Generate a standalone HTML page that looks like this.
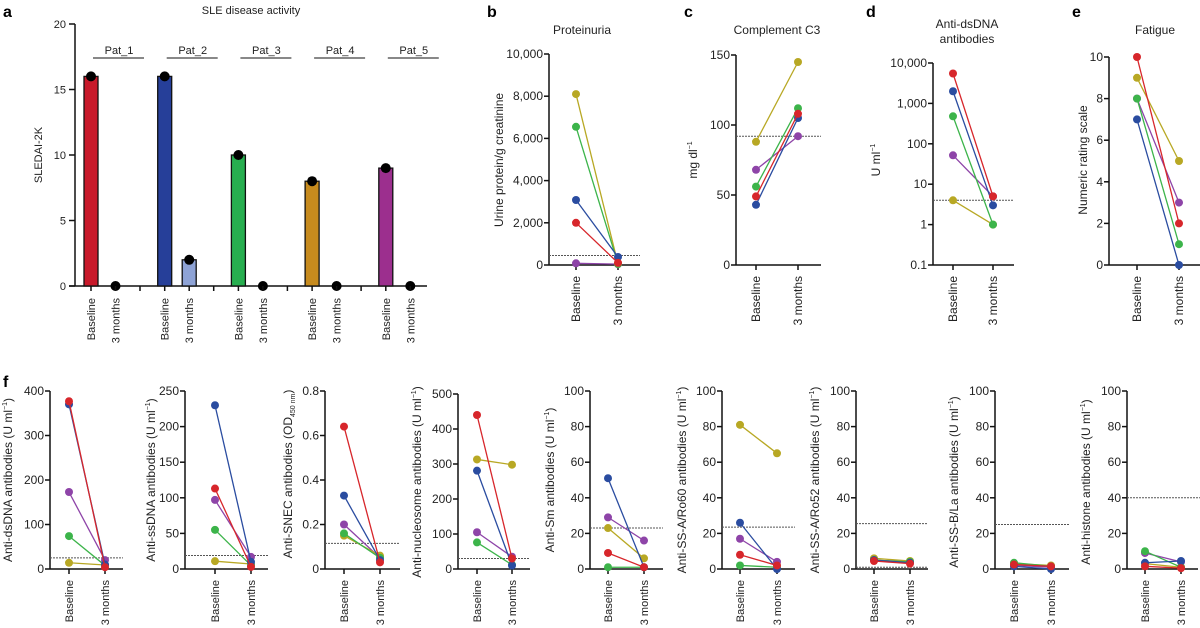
<!DOCTYPE html>
<html><head><meta charset="utf-8"><style>
html,body{margin:0;padding:0;background:#fff}
svg{display:block;font-family:"Liberation Sans",sans-serif}
</style></head><body>
<svg id="fig" width="1200" height="628" viewBox="0 0 1200 628" xmlns="http://www.w3.org/2000/svg"></svg>
<script>
// ---------- data ----------
const patients = ["Pat_1","Pat_2","Pat_3","Pat_4","Pat_5"];
const sledaiBaseline = [16,16,10,8,9];
const sledai3m = [0,2,0,0,0];
const timepoints = ["Baseline","3 months"];
const seriesColors = ["#d7262b","#2a4ca0","#3cb44a","#b8a824","#8e44a8"]; // red, blue, green, yellow, purple
const protBase = [2000,3080,6550,8100,80];
const prot3m = [100,380,50,50,40];
const c3Base = [49,43,56,88,68];
const c3_3m = [108,105,112,145,92];
const dsdnaLogBase = [5500,2000,480,4,52];
const dsdnaLog3m = [5,3,1,1,5];
const fatBase = [10,7,8,9,8];
const fat3m = [2,0,1,5,3];
const f1Base = [377,370,74,14,173], f1_3m = [4,10,8,9,20];
const f2Base = [113,230,55,11,97], f2_3m = [3,10,5,7,17];
const f3Base = [0.64,0.33,0.16,0.15,0.2], f3_3m = [0.03,0.04,0.05,0.06,0.05];
const f4Base = [440,281,76,313,105], f4_3m = [30,10,12,298,35];
const f5Base = [9,51,1,23,29], f5_3m = [1,1,1,6,16];
const f6Base = [8,26,2,81,17], f6_3m = [2,0,1,65,4];
const f7Base = [4.5,5,5,6,5], f7_3m = [3,3.5,4,4.5,4];
const f8Base = [2.5,1.5,3.5,3,2], f8_3m = [1.5,0,1.5,2,1];
const f9Base = [1.5,3.5,10,3,9], f9_3m = [0.5,4.5,1,1,4];

const NS="http://www.w3.org/2000/svg";
const svg=document.getElementById('fig');
function el(tag,attrs,parent,text){const e=document.createElementNS(NS,tag);for(const k in attrs)e.setAttribute(k,attrs[k]);if(text!==undefined)e.textContent=text;(parent||svg).appendChild(e);return e;}

// ---------- panel a ----------
(function(){
  const g=el('g',{});
  
  
  const x0=75,y0=286,yTop=24,max=20;
  const ys=v=>y0-(v/max)*(y0-yTop);
  let t=el('text',{x:3,y:17,'font-size':16,'font-weight':'bold'},g,'a');
  
  t=el('text',{x:251,y:14,'font-size':11,'text-anchor':'middle',fill:'#222'},g,'SLE disease activity');
  
  t=el('text',{transform:'translate(42,155) rotate(-90)','font-size':11,'text-anchor':'middle',fill:'#222'},g,'SLEDAI-2K');
  
  el('line',{x1:x0,y1:yTop,x2:x0,y2:y0,stroke:'#111','stroke-width':1.5},g);
  el('line',{x1:69,y1:y0,x2:427,y2:y0,stroke:'#111','stroke-width':1.5},g);
  [0,5,10,15,20].forEach(v=>{
    el('line',{x1:x0-6,y1:ys(v),x2:x0,y2:ys(v),stroke:'#111','stroke-width':1.5},g);
    const tl=el('text',{x:x0-9,y:ys(v)+4,'font-size':11,'text-anchor':'end',fill:'#222'},g,String(v));
    
  });
  const baseColors=["#c8192a","#263f99","#27ae4f","#c78b1e","#9c2f8e"];
  const lightColors=["#e6a0a4","#8ea3d6","#9fdcb0","#e3c98d","#d9a5cf"];
  patients.forEach((p,i)=>{
    const cx=91+i*73.7, cx2=cx+24.5;
    const bb=el('rect',{x:cx-7,y:ys(sledaiBaseline[i]),width:14,height:y0-ys(sledaiBaseline[i]),fill:baseColors[i],stroke:'#111','stroke-width':1.3},g);
    
    if(sledai3m[i]>0){
      const b3=el('rect',{x:cx2-7,y:ys(sledai3m[i]),width:14,height:y0-ys(sledai3m[i]),fill:lightColors[i],stroke:'#111','stroke-width':1.3},g);
      
    }
    el('circle',{cx:cx,cy:ys(sledaiBaseline[i]),r:5,fill:'#000'},g);
    el('circle',{cx:cx2,cy:ys(sledai3m[i]),r:5,fill:'#000'},g);
    el('line',{x1:cx,y1:y0,x2:cx,y2:y0+5,stroke:'#111','stroke-width':1.5},g);
    el('line',{x1:cx2,y1:y0,x2:cx2,y2:y0+5,stroke:'#111','stroke-width':1.5},g);
    if(i<4)el('line',{x1:cx+49,y1:y0,x2:cx+49,y2:y0+5,stroke:'#111','stroke-width':1.5},g);
    const pl=el('text',{x:cx+28,y:54,'font-size':11,'text-anchor':'middle',fill:'#222'},g,p);
    
    el('line',{x1:cx+2,y1:58,x2:cx+53,y2:58,stroke:'#111','stroke-width':1},g);
    [cx,cx2].forEach((x,k)=>{
      const xl=el('text',{transform:`translate(${x+4},298) rotate(-90)`,'font-size':11,'text-anchor':'end',fill:'#222'},g,timepoints[k]);
      
    });
  });
})();

// ---------- generic paired line panel ----------
function panel(o){
  const g=el('g',{});
  
  
  const ys=o.log?(v=>o.y0-(Math.log10(v)-Math.log10(o.min))/(Math.log10(o.max)-Math.log10(o.min))*(o.y0-o.yTop))
                 :(v=>o.y0-(v-o.min)/(o.max-o.min)*(o.y0-o.yTop));
  const fs=o.fs||11;
  const xfs=o.xfs||fs;
  if(o.letter){const t=el('text',{x:o.letterX,y:o.letterY,'font-size':16,'font-weight':'bold'},g,o.letter);
    }
  if(o.title){o.title.forEach((line,k)=>{const t=el('text',{x:o.titleX,y:o.titleY+k*15,'font-size':12,'text-anchor':'middle',fill:'#222'},g,line);
    });}
  const yl=el('text',{transform:`translate(${o.ylabX},${o.ylabY}) rotate(-90)`,'font-size':fs,'text-anchor':'middle',fill:'#222'},g);
  
  
  yl.innerHTML=o.ylab;
  el('line',{x1:o.ax,y1:o.yTop,x2:o.ax,y2:o.y0,stroke:'#111','stroke-width':1.5},g);
  el('line',{x1:o.ax,y1:o.y0,x2:o.xEnd,y2:o.y0,stroke:'#111','stroke-width':1.5},g);
  o.ticks.forEach((v,k)=>{
    el('line',{x1:o.ax-5,y1:ys(v),x2:o.ax,y2:ys(v),stroke:'#111','stroke-width':1.5},g);
    const tl=el('text',{x:o.ax-6,y:ys(v)+4,'font-size':fs,'text-anchor':'end',fill:'#222'},g,o.tickLabels[k]);
    
    
  });
  (o.dashed||[]).forEach(v=>{
    const d=el('line',{x1:o.ax,y1:ys(v),x2:o.dashEnd||o.xEnd,y2:ys(v),stroke:'#555','stroke-width':1,'stroke-dasharray':'2,1'},g);
    
    
  });
  [o.bx,o.mx].forEach((x,k)=>{
    el('line',{x1:x,y1:o.y0,x2:x,y2:o.y0+5,stroke:'#111','stroke-width':1.5},g);
    const xl=el('text',{transform:`translate(${x+4},${o.y0+11}) rotate(-90)`,'font-size':xfs,'text-anchor':'end',fill:'#222'},g,timepoints[k]);
    
    
  });
  const order=o.order||[4,3,2,1,0];
  order.forEach(i=>{
    const a=ys(o.base[i]),b=ys(o.m3[i]);
    const ln=el('line',{x1:o.bx,y1:a,x2:o.mx,y2:b,stroke:seriesColors[i],'stroke-width':1.3},g);
    
    
    const p1=el('circle',{cx:o.bx,cy:a,r:4,fill:seriesColors[i]},g);
    
    
    const p2=el('circle',{cx:o.mx,cy:b,r:4,fill:seriesColors[i]},g);
    
    
  });
}
const UML='(U ml<tspan dy="-5" font-size="7">−1</tspan><tspan dy="5">)</tspan>';
const topCfg={y0:265,fs:12};
panel({...topCfg,name:'panel-b-proteinuria',letter:'b',letterX:487,letterY:17,title:['Proteinuria'],titleX:582,titleY:34,
  ylab:'Urine protein/g creatinine',ylabX:503,ylabY:160,ax:549,yTop:54,xEnd:640,min:0,max:10000,
  ticks:[0,2000,4000,6000,8000,10000],tickLabels:['0','2,000','4,000','6,000','8,000','10,000'],
  dashed:[450],bx:576,mx:618,base:protBase,m3:prot3m});
panel({...topCfg,name:'panel-c-complement-c3',letter:'c',letterX:684,letterY:17,title:['Complement C3'],titleX:777,titleY:34,
  ylab:'mg dl<tspan dy="-5" font-size="7">−1</tspan>',ylabX:697,ylabY:160,ax:736,yTop:55,xEnd:821,min:0,max:150,
  ticks:[0,50,100,150],tickLabels:['0','50','100','150'],dashed:[92],bx:756,mx:798,base:c3Base,m3:c3_3m});
panel({...topCfg,name:'panel-d-anti-dsdna',letter:'d',letterX:866,letterY:17,title:['Anti-dsDNA','antibodies'],titleX:967,titleY:28,
  ylab:'U ml<tspan dy="-5" font-size="7">−1</tspan>',ylabX:880,ylabY:160,ax:933,yTop:63,xEnd:1014,min:0.1,max:10000,log:true,
  ticks:[0.1,1,10,100,1000,10000],tickLabels:['0.1','1','10','100','1,000','10,000'],dashed:[4],bx:953,mx:993,base:dsdnaLogBase,m3:dsdnaLog3m});
panel({...topCfg,name:'panel-e-fatigue',letter:'e',letterX:1072,letterY:17,title:['Fatigue'],titleX:1155,titleY:34,
  ylab:'Numeric rating scale',ylabX:1087,ylabY:160,ax:1109,yTop:57,xEnd:1200,min:0,max:10,
  ticks:[0,2,4,6,8,10],tickLabels:['0','2','4','6','8','10'],bx:1137,mx:1179,base:fatBase,m3:fat3m,order:[4,1,2,3,0]});

const botCfg={y0:569,yTop:391,fs:12,xfs:11};
const t100=[0,20,40,60,80,100], l100=['0','20','40','60','80','100'];
panel({...botCfg,name:'panel-f-anti-dsdna',letter:'f',letterX:3,letterY:387,ylab:'Anti-dsDNA antibodies '+UML,ylabX:12,ylabY:480,
  ax:50,xEnd:123,min:0,max:400,ticks:[0,100,200,300,400],tickLabels:['0','100','200','300','400'],dashed:[25],bx:69,mx:105,base:f1Base,m3:f1_3m,order:[3,2,4,1,0]});
panel({...botCfg,name:'panel-f-anti-ssdna',ylab:'Anti-ssDNA antibodies '+UML,ylabX:155,ylabY:480,
  ax:185,xEnd:268,min:0,max:250,ticks:[0,50,100,150,200,250],tickLabels:['0','50','100','150','200','250'],dashed:[19],bx:215,mx:251,base:f2Base,m3:f2_3m});
panel({...botCfg,name:'panel-f-anti-snec',ylab:'Anti-SNEC antibodies (OD<tspan dy="3" font-size="7">450 nm</tspan><tspan dy="-3">)</tspan>',ylabX:292,ylabY:474,
  ax:325,xEnd:400,min:0,max:0.8,ticks:[0,0.2,0.4,0.6,0.8],tickLabels:['0','0.2','0.4','0.6','0.8'],dashed:[0.115],bx:344,mx:380,base:f3Base,m3:f3_3m});
panel({...botCfg,name:'panel-f-anti-nucleosome',ylab:'Anti-nucleosome antibodies '+UML,ylabX:421,ylabY:482,
  ax:458,yTop:394,xEnd:530,min:0,max:500,ticks:[0,100,200,300,400,500],tickLabels:['0','100','200','300','400','500'],dashed:[30],bx:477,mx:512,base:f4Base,m3:f4_3m});
panel({...botCfg,name:'panel-f-anti-sm',ylab:'Anti-Sm antibodies '+UML,ylabX:554,ylabY:480,
  ax:590,xEnd:663,min:0,max:100,ticks:t100,tickLabels:l100,dashed:[23],bx:608,mx:644,base:f5Base,m3:f5_3m});
panel({...botCfg,name:'panel-f-anti-ssa-ro60',ylab:'Anti-SS-A/Ro60 antibodies '+UML,ylabX:686,ylabY:480,
  ax:722,xEnd:795,min:0,max:100,ticks:t100,tickLabels:l100,dashed:[23.5],bx:740,mx:777,base:f6Base,m3:f6_3m});
panel({...botCfg,name:'panel-f-anti-ssa-ro52',ylab:'Anti-SS-A/Ro52 antibodies '+UML,ylabX:819,ylabY:480,
  ax:856,xEnd:928,min:0,max:100,ticks:t100,tickLabels:l100,dashed:[25.5,1],bx:874,mx:910,base:f7Base,m3:f7_3m});
panel({...botCfg,name:'panel-f-anti-ssb-la',ylab:'Anti-SS-B/La antibodies '+UML,ylabX:958,ylabY:482,
  ax:995,xEnd:1069,min:0,max:100,ticks:t100,tickLabels:l100,dashed:[25],bx:1014,mx:1051,base:f8Base,m3:f8_3m});
panel({...botCfg,name:'panel-f-anti-histone',ylab:'Anti-histone antibodies '+UML,ylabX:1090,ylabY:482,
  ax:1127,xEnd:1198,min:0,max:100,ticks:t100,tickLabels:l100,dashed:[40],dashEnd:1200,bx:1145,mx:1181,base:f9Base,m3:f9_3m});
</script>
</body></html>
